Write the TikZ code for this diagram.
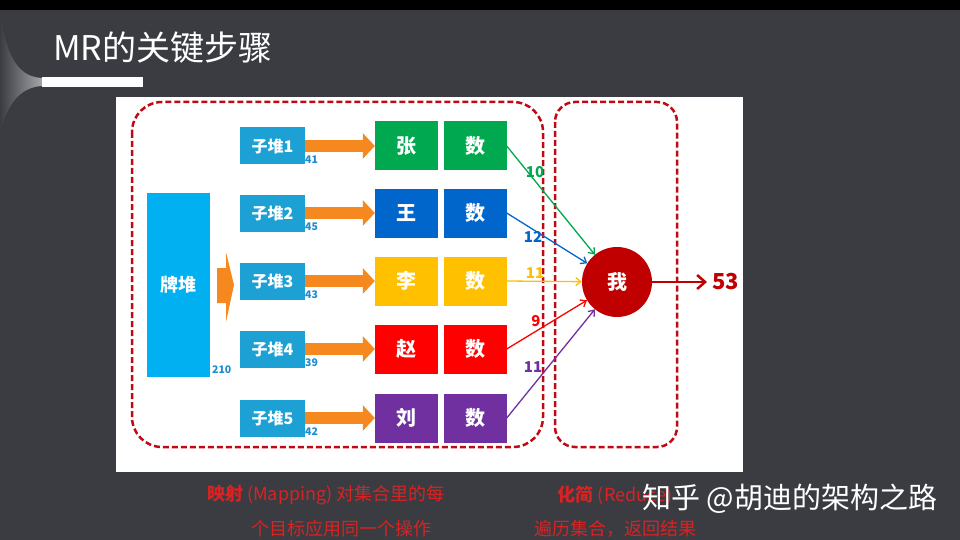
\documentclass[tikz,border=0pt]{standalone}
\usepackage{fontspec}
\setmainfont{Noto Sans CJK SC}
\usetikzlibrary{arrows.meta}

\definecolor{darkbg}{RGB}{58,60,66}
\definecolor{flaregray}{RGB}{165,165,170}
\definecolor{dashred}{RGB}{190,10,20}
\definecolor{pilecyan}{RGB}{0,176,240}
\definecolor{subblue}{RGB}{29,161,212}
\definecolor{arroworange}{RGB}{245,137,31}
\definecolor{zhanggreen}{RGB}{0,168,80}
\definecolor{wangblue}{RGB}{0,102,204}
\definecolor{liyellow}{RGB}{255,192,0}
\definecolor{zhaored}{RGB}{255,0,0}
\definecolor{liupurple}{RGB}{112,48,160}
\definecolor{mered}{RGB}{192,0,0}
\definecolor{countblue}{RGB}{30,140,210}
\definecolor{notered}{RGB}{215,35,35}

\begin{document}
\begin{tikzpicture}[x=1pt, y=-1pt,
    pile/.style={rectangle, fill=pilecyan, text=white, inner sep=0pt,
        minimum width=63pt, minimum height=184pt,
        font=\fontsize{18}{18}\selectfont\bfseries},
    subpile/.style={rectangle, fill=subblue, text=white, inner sep=0pt,
        minimum width=65pt, minimum height=37pt,
        font=\fontsize{16}{16}\selectfont\bfseries},
    card/.style={rectangle, fill=#1, text=white, inner sep=0pt,
        minimum width=63pt, minimum height=49pt,
        font=\fontsize{20}{20}\selectfont\bfseries},
    count/.style={text=countblue, inner sep=0pt, anchor=west,
        font=\fontsize{10.5}{10.5}\selectfont\bfseries},
    deal/.style={draw=arroworange, line width=12pt,
        -{Triangle[length=12pt, width=25pt]}},
    feed/.style={draw=#1, line width=1.3pt,
        -{Straight Barb[length=5pt, width=8pt]}},
    tally/.style={text=#1, inner sep=0pt,
        font=\fontsize{15}{15}\selectfont\bfseries},
    phase/.style={draw=dashred, line width=2.5pt, dash pattern=on 6pt off 3pt},
    note/.style={text=notered, inner sep=0pt,
        font=\fontsize{18}{18}\selectfont},
]
    % slide background
    \useasboundingbox (0,0) rectangle (960,540);
    \fill[darkbg] (0,0) rectangle (960,540);
    \fill[black] (0,0) rectangle (960,10);
    \shade[left color=darkbg, right color=flaregray]
        (0,10) .. controls (6,60) and (20,77) .. (42,78) -- (42,86)
        .. controls (20,87) and (6,105) .. (0,135) -- cycle;
    \fill[white] (42,77) rectangle (143,87);
    \node (title) [text=white, anchor=west, inner sep=0pt,
        font=\fontsize{34}{34}\selectfont] at (53,48) {MR的关键步骤};

    % white panel and the two phases
    \fill[white] (116,97) rectangle (743,472);
    \draw[phase, rounded corners=30pt] (132,102) rectangle (543,447);
    \draw[phase, rounded corners=20pt] (555,102) rectangle (677,447);

    % the whole pile
    \node (pile) [pile] at (178.5,285) {牌堆};
    \node (pilecount) [count] at (212,370) {210};
    \fill[arroworange] (217,268) -- (226,268) -- (226,252) -- (234,285)
        -- (226,322) -- (226,303) -- (217,303) -- cycle;

    % sub piles
    \node (sub1) [subpile] at (272.5,146) {子堆1};
    \node (sub2) [subpile] at (272.5,213) {子堆2};
    \node (sub3) [subpile] at (272.5,281) {子堆3};
    \node (sub4) [subpile] at (272.5,349) {子堆4};
    \node (sub5) [subpile] at (272.5,418) {子堆5};

    \node (count1) [count] at (305,160) {41};
    \node (count2) [count] at (305,227) {45};
    \node (count3) [count] at (305,295) {43};
    \node (count4) [count] at (305,363) {39};
    \node (count5) [count] at (305,432) {42};

    % who counts which pile
    \node (zhang) [card=zhanggreen] at (406.5,146) {张};
    \node (wang) [card=wangblue] at (406.5,213) {王};
    \node (li) [card=liyellow] at (406.5,281) {李};
    \node (zhao) [card=zhaored] at (406.5,349) {赵};
    \node (liu) [card=liupurple] at (406.5,418) {刘};

    \node (shu1) [card=zhanggreen] at (475,146) {数};
    \node (shu2) [card=wangblue] at (475,213) {数};
    \node (shu3) [card=liyellow] at (475,281) {数};
    \node (shu4) [card=zhaored] at (475,349) {数};
    \node (shu5) [card=liupurple] at (475,418) {数};

    \draw[deal] (sub1.east) -- (zhang.west);
    \draw[deal] (sub2.east) -- (wang.west);
    \draw[deal] (sub3.east) -- (li.west);
    \draw[deal] (sub4.east) -- (zhao.west);
    \draw[deal] (sub5.east) -- (liu.west);

    % reduce
    \node (me) [circle, fill=mered, text=white, minimum size=70pt, inner sep=0pt,
        font=\fontsize{20}{20}\selectfont\bfseries] at (617,282) {我};
    \node (result) [text=mered, anchor=west, inner sep=5pt,
        font=\fontsize{22}{22}\selectfont\bfseries] at (707,282) {53};

    \draw[feed=zhanggreen] (shu1.east) -- (me);
    \draw[feed=wangblue] (shu2.east) -- (me);
    \draw[feed=liyellow] (shu3.east) -- (me);
    \draw[feed=zhaored] (shu4.east) -- (me);
    \draw[feed=liupurple] (shu5.east) -- (me);
    \draw[mered, line width=2.5pt, -{Straight Barb[length=8pt, width=14pt]}]
        (me.east) -- (result.west);

    \node (tally1) [tally=zhanggreen] at (535,172) {10};
    \node (tally2) [tally=wangblue] at (533,237) {12};
    \node (tally3) [tally=liyellow] at (535,273) {11};
    \node (tally4) [tally=zhaored] at (536,321) {9};
    \node (tally5) [tally=liupurple] at (533,367) {11};

    % captions
    \node (mapnote1) [note, anchor=west] at (207,495) {\textbf{映射} (Mapping) 对集合里的每};
    \node (mapnote2) [note] at (341,529) {个目标应用同一个操作};
    \node (rednote1) [note] at (615,495) {\textbf{化简} (Reduce)};
    \node (rednote2) [note] at (615,529) {遍历集合，返回结果};
    \node (mark) [text=white, anchor=west, inner sep=0pt,
        font=\fontsize{29}{29}\selectfont] at (642,499) {知乎 @胡迪的架构之路};
\end{tikzpicture}
\end{document}
